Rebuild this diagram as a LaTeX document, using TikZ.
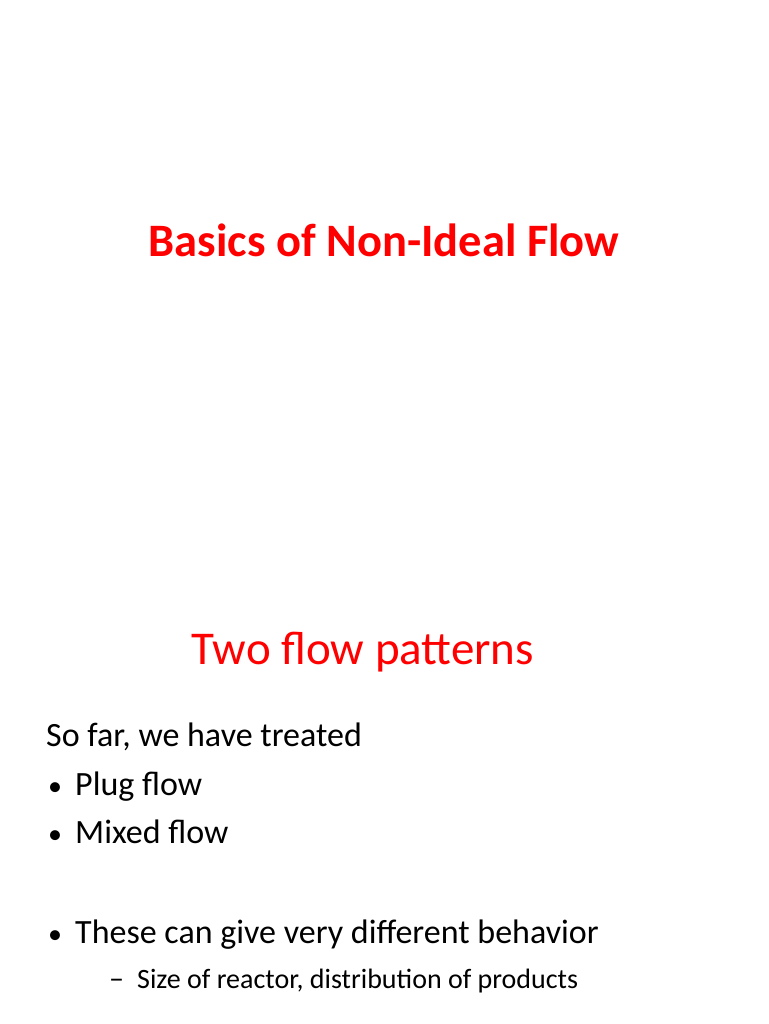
\documentclass[tikz,border=0pt]{standalone}
\usepackage{fontspec}
\setmainfont{Carlito}
\definecolor{slidered}{RGB}{255,0,0}
\tikzset{tl/.style={inner sep=0pt,anchor=base west,font=\fontsize{34}{36}\selectfont}}
\begin{document}
\begin{tikzpicture}[x=1pt,y=-1pt]
\useasboundingbox[fill=white] (0,0) rectangle (768,1024);
\node[inner sep=0pt,anchor=base,text=slidered,font=\fontsize{46.5}{48}\selectfont\bfseries] (t1) at (384,256) {Basics of Non-Ideal Flow};
\node[inner sep=0pt,anchor=base,text=slidered,font=\fontsize{47}{50}\selectfont] (t2) at (363,664) {Two flow patterns};
\node[tl] (l1) at (46,746) {So far, we have treated};
\node[tl,font=\fontsize{28}{30}\selectfont] (b1) at (48,795) {•};
\node[tl] (l2) at (75,795) {Plug flow};
\node[tl,font=\fontsize{28}{30}\selectfont] (b2) at (48,843) {•};
\node[tl] (l3) at (75,843) {Mixed flow};
\node[tl,font=\fontsize{28}{30}\selectfont] (b3) at (48,943) {•};
\node[tl] (l4) at (75,943) {These can give very different behavior};
\node[tl,font=\fontsize{30}{30}\selectfont] (d1) at (109,988) {–};
\node[tl,font=\fontsize{28}{30}\selectfont] (l5) at (137,988) {Size of reactor, distribution of products};
\end{tikzpicture}
\end{document}
